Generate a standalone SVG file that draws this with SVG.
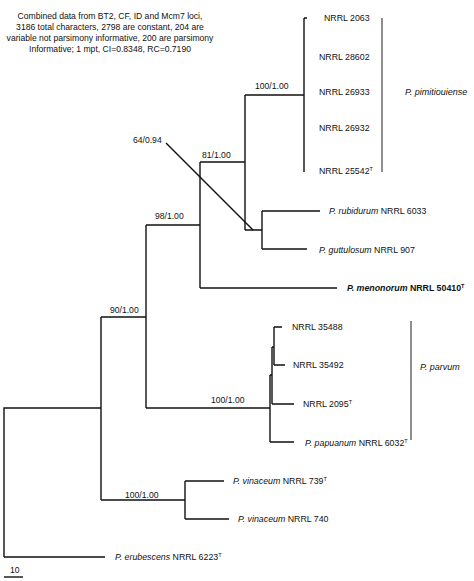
<svg xmlns="http://www.w3.org/2000/svg" width="474" height="581" viewBox="0 0 474 581">
<style>
text{font-family:"Liberation Sans",Arial,sans-serif;fill:#111}
.h{font-size:8.6px;text-anchor:middle}
.l{font-size:8.8px}
.s{font-size:8.6px}
.c{font-size:9px;font-style:italic}
.i{font-style:italic}
.b{font-weight:bold}
.sup{font-size:5.5px}
#connectors path,#connectors line{stroke:#111;stroke-width:1.4;fill:none}
.br{stroke:#444;stroke-width:1.2}
</style>
<rect width="474" height="581" fill="#fff"/>
<g id="header">
<text class="h" x="110" y="19">Combined data from BT2, CF, ID and Mcm7 loci,</text>
<text class="h" x="110" y="30">3186 total characters, 2798 are constant, 204 are</text>
<text class="h" x="110" y="41">variable not parsimony informative, 200 are parsimony</text>
<text class="h" x="110" y="52">Informative; 1 mpt, CI=0.8348, RC=0.7190</text>
</g>
<g id="connectors">
<path d="M4,557V408H101M4,557H105"/>
<path d="M101,317V500M101,317H146M101,500H185"/>
<path d="M146,225V408M146,225H200M146,408H270"/>
<path d="M200,162V288M200,162H245M200,288H337"/>
<path d="M245,95V230M245,95H304M245,230H262"/>
<path d="M304,18V172M304,18H307"/>
<path d="M262,211V249M262,211H320M262,249H307"/>
<path d="M270,375V442M270,442H294M270,375H272"/>
<path d="M272,347V404M272,404H294M272,347H274"/>
<path d="M274,327V365M274,327H282M274,365H285"/>
<path d="M185,481V519M185,481H224M185,519H229"/>
<line x1="166" y1="143" x2="253" y2="230"/>
<line x1="4" y1="577" x2="23" y2="577"/>
</g>
<g id="supports" class="s">
<text x="255" y="89">100/1.00</text>
<text x="133" y="143">64/0.94</text>
<text x="202" y="158">81/1.00</text>
<text x="155" y="219">98/1.00</text>
<text x="110" y="313">90/1.00</text>
<text x="211" y="403">100/1.00</text>
<text x="125" y="498">100/1.00</text>
<text x="10" y="573">10</text>
</g>
<g id="leaves" class="l">
<g id="n2063"><text x="324" y="21">NRRL 2063</text></g>
<g id="n28602"><text x="319" y="60">NRRL 28602</text></g>
<g id="n26933"><text x="319" y="95">NRRL 26933</text></g>
<g id="n26932"><text x="319" y="131">NRRL 26932</text></g>
<g id="n25542"><text x="319" y="174">NRRL 25542<tspan class="sup" dy="-3.5">T</tspan></text></g>
<g id="n6033"><text x="329" y="214"><tspan class="i">P. rubidurum</tspan> NRRL 6033</text></g>
<g id="n907"><text x="319" y="253"><tspan class="i">P. guttulosum</tspan> NRRL 907</text></g>
<g id="n50410"><text class="b" x="347" y="291"><tspan class="i">P. menonorum</tspan> NRRL 50410<tspan class="sup" dy="-3.5">T</tspan></text></g>
<g id="n35488"><text x="292" y="330">NRRL 35488</text></g>
<g id="n35492"><text x="293" y="368">NRRL 35492</text></g>
<g id="n2095"><text x="303" y="407">NRRL 2095<tspan class="sup" dy="-3.5">T</tspan></text></g>
<g id="n6032"><text x="305" y="446"><tspan class="i">P. papuanum</tspan> NRRL 6032<tspan class="sup" dy="-3.5">T</tspan></text></g>
<g id="n739"><text x="233" y="484"><tspan class="i">P. vinaceum</tspan> NRRL 739<tspan class="sup" dy="-3.5">T</tspan></text></g>
<g id="n740"><text x="238" y="522"><tspan class="i">P. vinaceum</tspan> NRRL 740</text></g>
<g id="n6223"><text x="115" y="560"><tspan class="i">P. erubescens</tspan> NRRL 6223<tspan class="sup" dy="-3.5">T</tspan></text></g>
</g>
<g id="clade-pimitiouiense">
<line class="br" x1="382" y1="18" x2="382" y2="172"/>
<text class="c" x="405" y="95">P. pimitiouiense</text>
</g>
<g id="clade-parvum">
<line class="br" x1="411" y1="321" x2="411" y2="440"/>
<text class="c" x="420" y="370">P. parvum</text>
</g>
</svg>
